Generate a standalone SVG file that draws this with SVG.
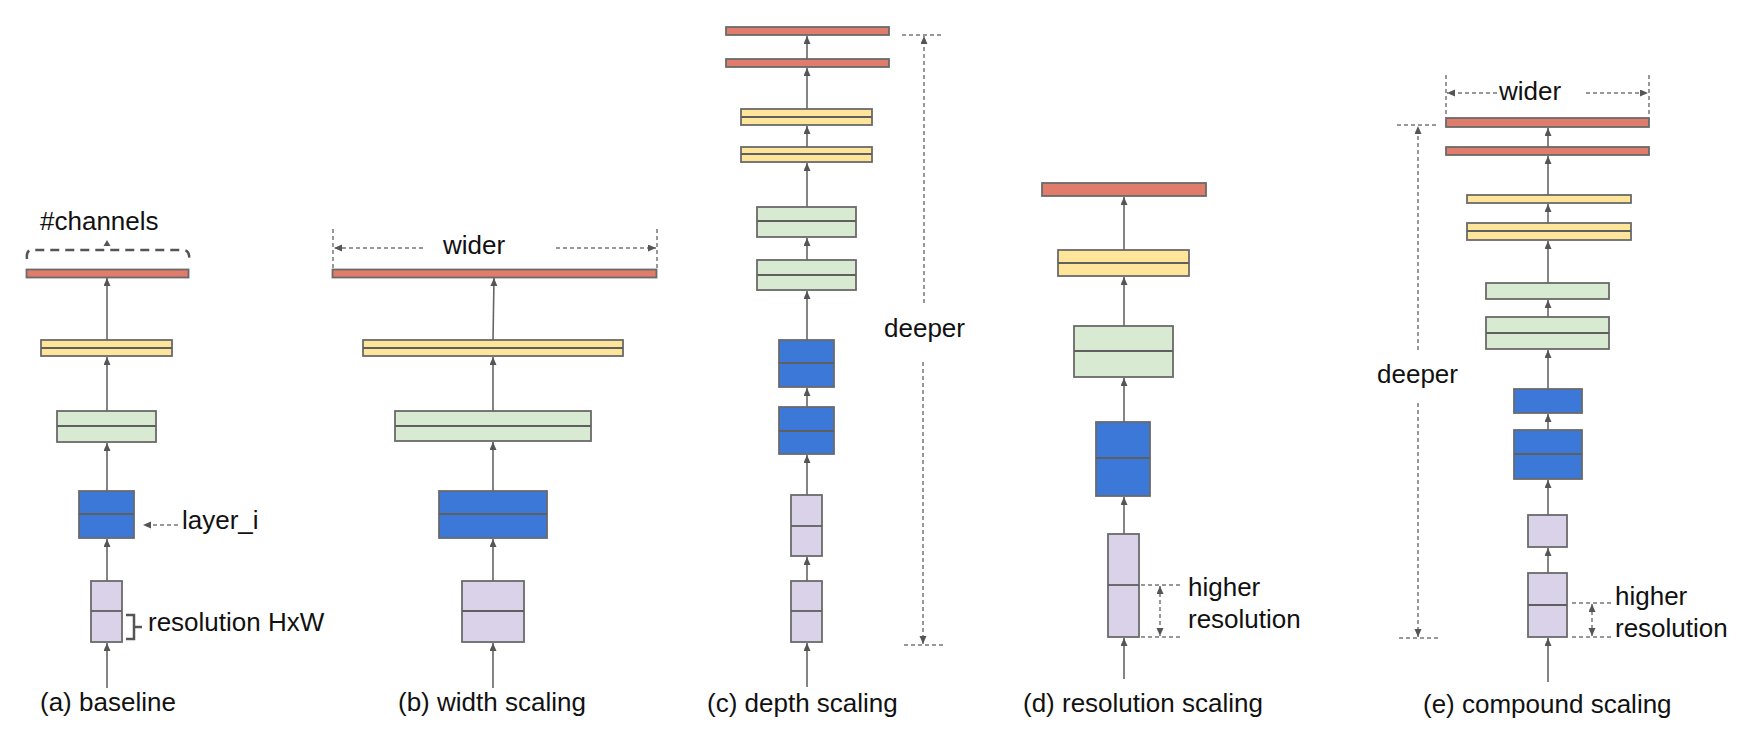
<svg xmlns="http://www.w3.org/2000/svg" width="1742" height="738" viewBox="0 0 1742 738">
<style>
.box{stroke:#6a6a6a;stroke-width:1.8}
.r{fill:#E07C6B}.y{fill:#FFE599}.g{fill:#D9EAD3}.b{fill:#3C78D8}.l{fill:#D9D2E9}
.mid{stroke:#5f5f5f;stroke-width:1.8}
.c{stroke:#666;stroke-width:1.6;fill:none;marker-end:url(#ah)}
.d{stroke:#777;stroke-width:1.5;fill:none;stroke-dasharray:4 3}
.da{stroke:#777;stroke-width:1.5;fill:none;stroke-dasharray:4 3;marker-end:url(#ah)}
.dd{stroke:#777;stroke-width:1.5;fill:none;stroke-dasharray:4 3;marker-start:url(#ah);marker-end:url(#ah)}
.br{stroke:#555;stroke-width:2.5;fill:none}
text{font-family:"Liberation Sans",Arial,sans-serif;font-size:26px;fill:#111}
</style>
<defs>
<marker id="ah" markerUnits="userSpaceOnUse" markerWidth="9" markerHeight="8" refX="8" refY="3.5" orient="auto-start-reverse"><path d="M0,0 L8,3.5 L0,7 z" fill="#555"/></marker>
</defs>
<rect width="1742" height="738" fill="#fff"/>

<!-- (a) baseline -->
<g id="a-red"><rect class="box r" x="26.5" y="269.5" width="162" height="8"/></g>
<g id="a-yellow"><rect class="box y" x="41" y="340" width="131" height="16"/><line class="mid" x1="41" y1="348" x2="172" y2="348"/></g>
<g id="a-green"><rect class="box g" x="57" y="411" width="99" height="31"/><line class="mid" x1="57" y1="426" x2="156" y2="426"/></g>
<g id="a-blue"><rect class="box b" x="79" y="491" width="55" height="47"/><line class="mid" x1="79" y1="514" x2="134" y2="514"/></g>
<g id="a-lav"><rect class="box l" x="91" y="581" width="31" height="61"/><line class="mid" x1="91" y1="611" x2="122" y2="611"/></g>

<!-- (b) width scaling -->
<g id="b-red"><rect class="box r" x="332.5" y="269.5" width="324" height="8"/></g>
<g id="b-yellow"><rect class="box y" x="363" y="340" width="260" height="16"/><line class="mid" x1="363" y1="348" x2="623" y2="348"/></g>
<g id="b-green"><rect class="box g" x="395" y="411" width="196" height="30"/><line class="mid" x1="395" y1="426" x2="591" y2="426"/></g>
<g id="b-blue"><rect class="box b" x="439" y="491" width="108" height="47"/><line class="mid" x1="439" y1="514" x2="547" y2="514"/></g>
<g id="b-lav"><rect class="box l" x="462" y="581" width="62" height="61"/><line class="mid" x1="462" y1="611" x2="524" y2="611"/></g>

<!-- (c) depth scaling -->
<g id="c-red1"><rect class="box r" x="726" y="27" width="163" height="8"/></g>
<g id="c-red2"><rect class="box r" x="726" y="59" width="163" height="8"/></g>
<g id="c-yellow1"><rect class="box y" x="741" y="109" width="131" height="16"/><line class="mid" x1="741" y1="117" x2="872" y2="117"/></g>
<g id="c-yellow2"><rect class="box y" x="741" y="147" width="131" height="15"/><line class="mid" x1="741" y1="154" x2="872" y2="154"/></g>
<g id="c-green1"><rect class="box g" x="757" y="207" width="99" height="30"/><line class="mid" x1="757" y1="221" x2="856" y2="221"/></g>
<g id="c-green2"><rect class="box g" x="757" y="260" width="99" height="30"/><line class="mid" x1="757" y1="275" x2="856" y2="275"/></g>
<g id="c-blue1"><rect class="box b" x="779" y="340" width="55" height="47"/><line class="mid" x1="779" y1="363" x2="834" y2="363"/></g>
<g id="c-blue2"><rect class="box b" x="779" y="407" width="55" height="47"/><line class="mid" x1="779" y1="431" x2="834" y2="431"/></g>
<g id="c-lav1"><rect class="box l" x="791" y="495" width="31" height="61"/><line class="mid" x1="791" y1="526" x2="822" y2="526"/></g>
<g id="c-lav2"><rect class="box l" x="791" y="581" width="31" height="61"/><line class="mid" x1="791" y1="611" x2="822" y2="611"/></g>

<!-- (d) resolution scaling -->
<g id="d-red"><rect class="box r" x="1042" y="183" width="164" height="13"/></g>
<g id="d-yellow"><rect class="box y" x="1058" y="250" width="131" height="26"/><line class="mid" x1="1058" y1="263" x2="1189" y2="263"/></g>
<g id="d-green"><rect class="box g" x="1074" y="326" width="99" height="51"/><line class="mid" x1="1074" y1="351" x2="1173" y2="351"/></g>
<g id="d-blue"><rect class="box b" x="1096" y="422" width="54" height="74"/><line class="mid" x1="1096" y1="458" x2="1150" y2="458"/></g>
<g id="d-lav"><rect class="box l" x="1108" y="534" width="31" height="103"/><line class="mid" x1="1108" y1="585" x2="1139" y2="585"/></g>

<!-- (e) compound scaling -->
<g id="e-red1"><rect class="box r" x="1446" y="118" width="203" height="9"/></g>
<g id="e-red2"><rect class="box r" x="1446" y="147" width="203" height="8"/></g>
<g id="e-yellow1"><rect class="box y" x="1467" y="195" width="164" height="8"/></g>
<g id="e-yellow2"><rect class="box y" x="1467" y="223" width="164" height="17"/><line class="mid" x1="1467" y1="231" x2="1631" y2="231"/></g>
<g id="e-green1"><rect class="box g" x="1486" y="283" width="123" height="16"/></g>
<g id="e-green2"><rect class="box g" x="1486" y="317" width="123" height="32"/><line class="mid" x1="1486" y1="333" x2="1609" y2="333"/></g>
<g id="e-blue1"><rect class="box b" x="1514" y="389" width="68" height="24"/></g>
<g id="e-blue2"><rect class="box b" x="1514" y="430" width="68" height="49"/><line class="mid" x1="1514" y1="454" x2="1582" y2="454"/></g>
<g id="e-lav1"><rect class="box l" x="1528" y="515" width="39" height="32"/></g>
<g id="e-lav2"><rect class="box l" x="1528" y="573" width="39" height="64"/><line class="mid" x1="1528" y1="605" x2="1567" y2="605"/></g>

<g id="connectors">
<!-- a -->
<line class="c" x1="107" y1="688" x2="107" y2="643"/>
<line class="c" x1="107" y1="581" x2="107" y2="539"/>
<line class="c" x1="107" y1="491" x2="107" y2="443"/>
<line class="c" x1="107" y1="411" x2="107" y2="357"/>
<line class="c" x1="107" y1="340" x2="107" y2="278"/>
<!-- b -->
<line class="c" x1="493" y1="688" x2="493" y2="643"/>
<line class="c" x1="493" y1="581" x2="493" y2="539"/>
<line class="c" x1="493" y1="491" x2="493" y2="442"/>
<line class="c" x1="493" y1="411" x2="493" y2="357"/>
<line class="c" x1="493" y1="340" x2="494" y2="278"/>
<!-- c -->
<line class="c" x1="807" y1="687" x2="807" y2="643"/>
<line class="c" x1="807" y1="581" x2="807" y2="557"/>
<line class="c" x1="807" y1="495" x2="807" y2="455"/>
<line class="c" x1="807" y1="407" x2="807" y2="388"/>
<line class="c" x1="807" y1="340" x2="807" y2="291"/>
<line class="c" x1="807" y1="260" x2="807" y2="238"/>
<line class="c" x1="807" y1="207" x2="807" y2="163"/>
<line class="c" x1="807" y1="147" x2="807" y2="126"/>
<line class="c" x1="807" y1="109" x2="807" y2="68"/>
<line class="c" x1="807" y1="59" x2="807" y2="36"/>
<!-- d -->
<line class="c" x1="1124" y1="679" x2="1124" y2="638"/>
<line class="c" x1="1124" y1="534" x2="1124" y2="497"/>
<line class="c" x1="1124" y1="422" x2="1124" y2="378"/>
<line class="c" x1="1124" y1="326" x2="1124" y2="277"/>
<line class="c" x1="1124" y1="250" x2="1124" y2="197"/>
<!-- e -->
<line class="c" x1="1548" y1="682" x2="1548" y2="638"/>
<line class="c" x1="1548" y1="573" x2="1548" y2="548"/>
<line class="c" x1="1548" y1="515" x2="1548" y2="480"/>
<line class="c" x1="1548" y1="430" x2="1548" y2="414"/>
<line class="c" x1="1548" y1="389" x2="1548" y2="350"/>
<line class="c" x1="1548" y1="317" x2="1548" y2="300"/>
<line class="c" x1="1548" y1="283" x2="1548" y2="241"/>
<line class="c" x1="1548" y1="223" x2="1548" y2="204"/>
<line class="c" x1="1548" y1="195" x2="1548" y2="156"/>
<line class="c" x1="1548" y1="147" x2="1548" y2="128"/>
</g>

<g id="annotations">
<!-- #channels bracket -->
<path class="br" stroke-dasharray="9 6" d="M27,259 Q26,251 31,250 H184 Q190,251 189,259"/>
<path d="M103.5,246 L107,240 L110.5,246 z" fill="#555"/>
<!-- layer_i -->
<line class="da" x1="178" y1="525" x2="143" y2="525"/>
<!-- resolution HxW bracket -->
<path class="br" d="M126,615 H134 V639 H126 M134,627 H142"/>
<!-- wider (b) -->
<line class="d" x1="333" y1="229" x2="333" y2="268"/>
<line class="d" x1="657" y1="229" x2="657" y2="268"/>
<line class="da" x1="423" y1="248" x2="334" y2="248"/>
<line class="da" x1="556" y1="248" x2="656" y2="248"/>
<!-- deeper (c) -->
<line class="d" x1="902" y1="35" x2="942" y2="35"/>
<line class="da" x1="924" y1="303" x2="924" y2="36"/>
<line class="da" x1="923" y1="362" x2="923" y2="644"/>
<line class="d" x1="904" y1="645" x2="945" y2="645"/>
<!-- higher resolution (d) -->
<line class="d" x1="1141" y1="585" x2="1182" y2="585"/>
<line class="d" x1="1141" y1="637" x2="1182" y2="637"/>
<line class="dd" x1="1160" y1="586" x2="1160" y2="636"/>
<!-- wider (e) -->
<line class="d" x1="1446" y1="75" x2="1446" y2="117"/>
<line class="d" x1="1649" y1="75" x2="1649" y2="117"/>
<line class="da" x1="1497" y1="93" x2="1447" y2="93"/>
<line class="da" x1="1586" y1="93" x2="1648" y2="93"/>
<!-- deeper (e) -->
<line class="d" x1="1397" y1="125" x2="1437" y2="125"/>
<line class="da" x1="1418" y1="350" x2="1418" y2="126"/>
<line class="da" x1="1418" y1="403" x2="1418" y2="637"/>
<line class="d" x1="1399" y1="638" x2="1439" y2="638"/>
<!-- higher resolution (e) -->
<line class="d" x1="1572" y1="603" x2="1612" y2="603"/>
<line class="d" x1="1572" y1="637" x2="1612" y2="637"/>
<line class="dd" x1="1592" y1="604" x2="1592" y2="636"/>
</g>

<g id="labels">
<text x="40" y="230">#channels</text>
<text x="182" y="529">layer_i</text>
<text x="148" y="631">resolution HxW</text>
<text x="40" y="711">(a) baseline</text>
<text x="443" y="254">wider</text>
<text x="398" y="711">(b) width scaling</text>
<text x="884" y="337">deeper</text>
<text x="707" y="712">(c) depth scaling</text>
<text x="1188" y="596">higher</text>
<text x="1188" y="628">resolution</text>
<text x="1023" y="712">(d) resolution scaling</text>
<text x="1499" y="100">wider</text>
<text x="1377" y="383">deeper</text>
<text x="1615" y="605">higher</text>
<text x="1615" y="637">resolution</text>
<text x="1423" y="713">(e) compound scaling</text>
</g>
</svg>
